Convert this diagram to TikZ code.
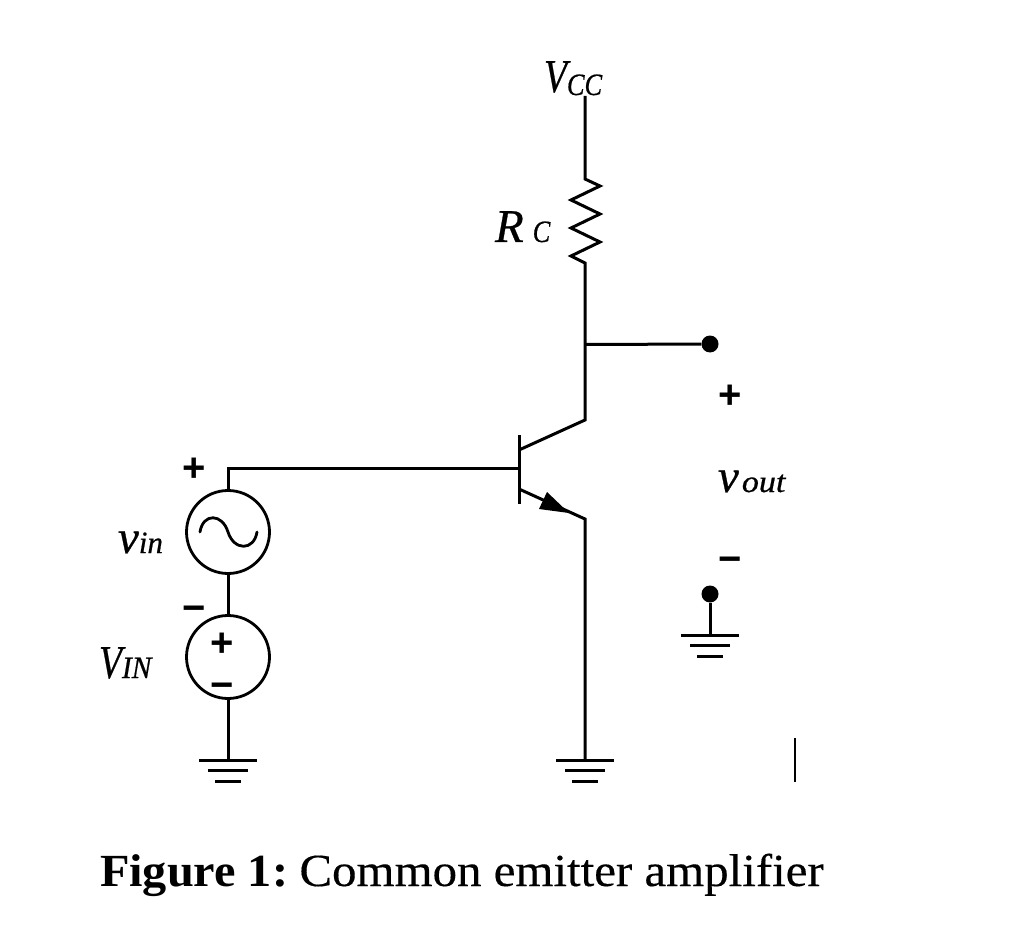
\documentclass[tikz,border=0pt]{standalone}
\usepackage{fontspec}
\setmainfont{Liberation Serif}[ItalicFeatures={FakeBold=0.6}]
\newfontfamily\capfont{Liberation Serif}[FakeBold=0.3,BoldFeatures={FakeBold=0}]
\newfontfamily\signfont{Liberation Sans}
\usetikzlibrary{calc}
\newcommand{\bigt}{\fontsize{47}{47}\selectfont\itshape}
\newcommand{\subt}{\fontsize{31}{31}\selectfont\itshape}
\newcommand{\signt}{\fontsize{40}{40}\selectfont\bfseries\signfont}
\tikzset{
  x=1pt,y=-1pt,
  wire/.style={draw=black,line width=3pt,line cap=butt,line join=miter},
  source/.style={circle,draw=black,line width=2.8pt,minimum size=83pt,inner sep=0pt},
  terminal/.style={circle,fill=black,minimum size=17pt,inner sep=0pt},
  lab/.style={anchor=base west,inner sep=0pt,outer sep=0pt,text=black},
  sign/.style={inner sep=0pt,outer sep=0pt,text=black,font=\signt},
}
\begin{document}
\begin{tikzpicture}
\useasboundingbox (0,0) rectangle (1018,936);
% sources and terminals
\node[source] (vin) at (228,532) {};
\node[source] (VIN) at (228,657) {};
\node[terminal] (out) at (710,344) {};
\node[terminal] (ref) at (710,594) {};
% coordinates
\coordinate (vcc) at (585,96);
\coordinate (rt) at (585,179);
\coordinate (rb) at (585,263);
\coordinate (tap) at (585,344.5);
\coordinate (c) at (585,420);
\coordinate (e) at (585,519);
\coordinate (bt) at (519,435);
\coordinate (bb) at (519,504);
\coordinate (bi) at (519,468);
\coordinate (bc) at (519,450);
\coordinate (be) at (519,489);
\coordinate (corner) at (228,468);
\coordinate (g1) at (228,760);
\coordinate (g2) at (585,760);
\coordinate (g3) at (710,635);
% main wires
\draw[wire] (vcc) -- (rt) -- (600,186) -- (571,200) -- (600,214) -- (571,228) -- (600,242) -- (571,256) -- (rb) -- (c) -- (bc);
\draw[wire] (tap) -- (out);
\draw[wire] (bt) -- (bb);
\draw[wire] (vin.north) -- (corner) -- (bi);
\draw[wire] (be) -- (e) -- (g2);
\fill[black] (569,513) -- (547,492) -- (539,509) -- cycle;
\draw[wire] (vin.south) -- (VIN.north);
\draw[wire] (VIN.south) -- (g1);
\draw[wire] (ref) -- (g3);
% sine
\draw[black,line width=2.8pt,line cap=round] (200,532) .. controls (203,513) and (222,513) .. (228,532) .. controls (234,551) and (254,551) .. (257,532);
% grounds
\foreach \g in {g1,g2,g3}{
  \draw[wire] ($(\g)+(-29,0)$) -- ($(\g)+(29,0)$);
  \draw[wire] ($(\g)+(-20,10.5)$) -- ($(\g)+(20,10.5)$);
  \draw[wire] ($(\g)+(-13,21)$) -- ($(\g)+(13,21)$);
}
% stray mark
\coordinate (ma) at (795,738);
\coordinate (mb) at (795,782);
\draw[black,line width=1.4pt] (ma) -- (mb);
% labels
\node[lab] (lvcc) at (544,92) {\bigt\scalebox{.8}[1]{V}\raisebox{-3pt}{\subt\scalebox{.85}[1]{CC}}};
\node[lab] (lrc) at (495,242) {\bigt R\hspace{9pt}\subt\scalebox{.85}[1]{C}};
\node[lab] (lvin) at (118,553) {\bigt v\subt in};
\node[lab] (lVIN) at (99,678) {\bigt\scalebox{.8}[1]{V}\subt\scalebox{.95}[1]{IN}};
\node[lab] (lvout) at (718,492) {\bigt v\hspace{3pt}\subt\scalebox{1.1}[1]{out}};
% signs
\node[sign] (p1) at (194,470) {+};
\node[sign] (m1) at (194,614) {−};
\node[sign] (p2) at (222.5,645) {+};
\node[sign] (m2) at (222.5,691) {−};
\node[sign] (p3) at (730,397) {+};
\node[sign] (m3) at (730,565) {−};
% caption
\node[lab] (cap) at (100,886) {\fontsize{46}{46}\selectfont\scalebox{1.05}[1]{\textbf{Figure 1:}}\hspace{-1pt}\scalebox{1.063}[1]{\capfont\ Common emitter amplifier}};
\end{tikzpicture}
\end{document}
